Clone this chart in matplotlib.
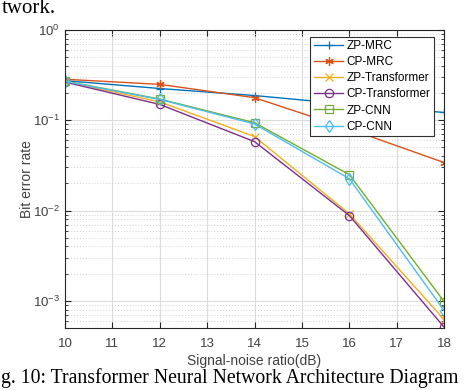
import numpy as np
import matplotlib.pyplot as plt
from matplotlib.ticker import LogLocator, NullFormatter

plt.rcParams['font.family'] = ['Liberation Sans', 'DejaVu Sans']

snr = [10, 12, 14, 16, 18]

zp_mrc = [0.275, 0.225, 0.188, 0.150, 0.122]
cp_mrc = [0.285, 0.250, 0.178, 0.080, 0.034]
zp_transformer = [0.270, 0.160, 0.066, 0.0092, 0.00062]
cp_transformer = [0.265, 0.150, 0.058, 0.0088, 0.00051]
zp_cnn = [0.272, 0.172, 0.094, 0.0250, 0.00098]
cp_cnn = [0.270, 0.170, 0.091, 0.0225, 0.00078]

series = [
    ('ZP-MRC', zp_mrc, '#0072BD', '+'),
    ('CP-MRC', cp_mrc, '#D95319', (6, 2, 0)),
    ('ZP-Transformer', zp_transformer, '#EDB120', 'x'),
    ('CP-Transformer', cp_transformer, '#7E2F8E', 'o'),
    ('ZP-CNN', zp_cnn, '#77AC30', 's'),
    ('CP-CNN', cp_cnn, '#4DBEEE', 'd'),
]

fig = plt.figure(figsize=(4.74, 3.9), dpi=100)
ax = fig.add_axes([0.137, 0.159, 0.800, 0.764])

for name, vals, col, mk in series:
    ax.semilogy(snr, vals, color=col, marker=mk, markersize=6, linewidth=1,
                markerfacecolor='none', markeredgecolor=col, markeredgewidth=0.9,
                label=name)

ax.set_xlim(10, 18)
ax.set_ylim(5e-4, 1)
ax.set_xticks(range(10, 19))
ax.yaxis.set_major_locator(LogLocator(base=10, numticks=10))
ax.yaxis.set_minor_locator(LogLocator(base=10, subs=np.arange(2, 10), numticks=10))
ax.yaxis.set_minor_formatter(NullFormatter())

ax.grid(True, which='major', color='#dcdcdc', linewidth=0.8)
ax.grid(True, which='minor', axis='y', color='#d0d0d0', linestyle=(0, (1, 2)), linewidth=0.7)
ax.set_axisbelow(True)

ax.tick_params(which='both', direction='in', top=True, right=True, labelsize=9.5,
               colors='#262626', labelcolor='#404040')
ax.tick_params(which='major', length=4)
ax.tick_params(axis='x', pad=7)
ax.tick_params(which='minor', length=2)
for sp in ax.spines.values():
    sp.set_color('#262626')
    sp.set_linewidth(0.8)

ax.set_xlabel('Signal-noise ratio(dB)', fontsize=10, color='#404040', labelpad=3)
ax.set_ylabel('Bit error rate', fontsize=10, color='#404040', labelpad=-1)

leg = ax.legend(loc='upper right', fontsize=8.5, frameon=True, fancybox=False,
                edgecolor='#303030', framealpha=1, borderpad=0.3, labelspacing=0.35,
                handlelength=2.5, handletextpad=0.25, borderaxespad=0.55,
                bbox_to_anchor=(0.99, 1.0))
leg.get_frame().set_linewidth(0.8)

fig.text(0.004, 0.967, 'twork.', family='Liberation Serif', fontsize=15,
         ha='left', va='baseline')
fig.text(0.002, 0.017, 'g. 10: Transformer Neural Network Architecture Diagram',
         family='Liberation Serif', fontsize=14.2, ha='left', va='baseline')

fig.savefig('out.png', dpi=100)
